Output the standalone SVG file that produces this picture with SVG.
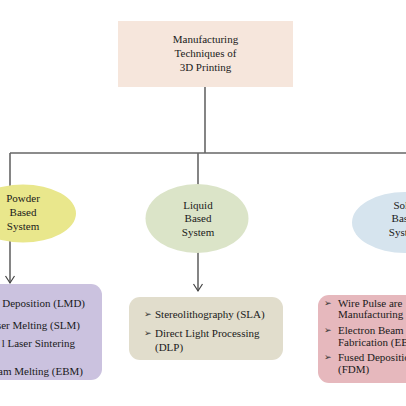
<svg xmlns="http://www.w3.org/2000/svg" width="406" height="406" viewBox="0 0 406 406">
<style>
text{font-family:"Liberation Serif","DejaVu Serif",serif;font-size:11px;fill:#1a1a1a}
.c{text-anchor:middle}
.e{text-anchor:end}
.b{font-family:"DejaVu Sans",sans-serif;font-size:9px;fill:#333}
.ln{stroke:#666;stroke-width:1.6;fill:none}
.ar{stroke:#444;stroke-width:1.2;fill:none}
</style>
<rect width="406" height="406" fill="#fff"/>
<g id="connectors">
<line class="ln" x1="205" y1="87" x2="205" y2="153"/>
<line class="ln" x1="10" y1="153" x2="406" y2="153"/>
<line class="ln" x1="10" y1="153" x2="10" y2="283"/>
<path class="ar" d="M5.5 276 L10 283 L14.5 276"/>
<line class="ln" x1="198" y1="153" x2="198" y2="291"/>
<path class="ar" d="M193.5 284 L198 291 L202.5 284"/>
</g>
<g id="root">
<rect x="118" y="21" width="175" height="66" fill="#f6e6dc"/>
<text class="c" x="205.5" y="43">Manufacturing</text>
<text class="c" x="205.5" y="57">Techniques of</text>
<text class="c" x="205.5" y="71">3D Printing</text>
</g>
<g id="powder">
<ellipse cx="23" cy="213.5" rx="53" ry="29" fill="#e9e78c"/>
<text class="c" x="23" y="202">Powder</text>
<text class="c" x="23" y="216">Based</text>
<text class="c" x="23" y="230">System</text>
</g>
<g id="liquid">
<ellipse cx="197" cy="218.5" rx="51.5" ry="34.5" fill="#dbe4c8"/>
<text class="c" x="198" y="209">Liquid</text>
<text class="c" x="198" y="222">Based</text>
<text class="c" x="198" y="236">System</text>
</g>
<g id="solid">
<ellipse cx="405" cy="222.5" rx="53" ry="30.5" fill="#d6e4ee"/>
<text class="c" x="405" y="209">Solid</text>
<text class="c" x="405" y="222">Based</text>
<text class="c" x="405" y="236">System</text>
</g>
<g id="powder-methods">
<rect x="-20" y="284" width="122" height="96" rx="11" fill="#cbc2df"/>
<text class="e" x="85" y="307">Deposition (LMD)</text>
<text class="e" x="80" y="329">ser Melting (SLM)</text>
<text class="e" x="75" y="347">l Laser Sintering</text>
<text class="e" x="83" y="375">am Melting (EBM)</text>
</g>
<g id="liquid-methods">
<rect x="129" y="297" width="154" height="63" rx="11" fill="#e1ddcc"/>
<text class="b" x="144" y="317">➢</text>
<text x="155" y="318">Stereolithography (SLA)</text>
<text class="b" x="144" y="336">➢</text>
<text x="155" y="337">Direct Light Processing</text>
<text x="155" y="351">(DLP)</text>
</g>
<g id="solid-methods">
<rect x="318" y="295" width="110" height="88" rx="11" fill="#e6b8bd"/>
<text class="b" x="324" y="306">➢</text>
<text x="338" y="307">Wire Pulse are</text>
<text x="338" y="318">Manufacturing</text>
<text class="b" x="324" y="333">➢</text>
<text x="338" y="334">Electron Beam</text>
<text x="338" y="346">Fabrication (EB</text>
<text class="b" x="324" y="360">➢</text>
<text x="338" y="361">Fused Deposition</text>
<text x="338" y="373">(FDM)</text>
</g>
</svg>
